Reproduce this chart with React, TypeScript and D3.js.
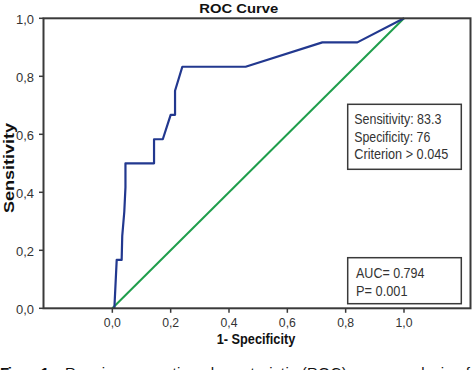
import React from 'react';
import * as d3 from 'd3';

// ROC curve points (1 - specificity, sensitivity)
const fpr = [0.007, 0.015, 0.032, 0.034, 0.041, 0.045, 0.045, 0.143, 0.143, 0.173, 0.2, 0.215, 0.215, 0.24, 0.457, 0.72, 0.84, 1];
const tpr = [0, 0.167, 0.167, 0.25, 0.333, 0.417, 0.5, 0.5, 0.583, 0.583, 0.667, 0.667, 0.75, 0.833, 0.833, 0.917, 0.917, 1];
const refLine = [0, 1];

const xTicks = [0, 0.2, 0.4, 0.6, 0.8, 1];
const yTicks = [0, 0.2, 0.4, 0.6, 0.8, 1];

const statsLines = ['Sensitivity: 83.3', 'Specificity: 76', 'Criterion > 0.045'];
const statsWidths = [87, 76, 94];
const aucLines = ['AUC= 0.794', 'P= 0.001'];
const aucWidths = [68.5, 51.5];

// condensed look: Liberation Sans squeezed with textLength
const FONT = '"Liberation Sans", Arial, Helvetica, sans-serif';

const App = () => {
  const width = 474;
  const height = 370;
  const left = 43.5, right = 470.5, top = 18.3, bottom = 308.3;

  // x axis runs past 0 and 1 on both sides, like the original
  const x = d3.scaleLinear().domain([-0.236, 1.228]).range([left, right]);
  const y = d3.scaleLinear().domain([0, 1]).range([bottom, top]);

  const line = d3.line<number>()
    .x((d, i) => x(fpr[i]))
    .y((d) => y(d));
  const diag = d3.line<number>().x((d) => x(d)).y((d) => y(d));

  const fmt = (v: number) => d3.format('.1f')(v).replace('.', ',');
  const axisColor = '#3a3a3a';
  const textColor = '#333';
  const sq = 'spacingAndGlyphs';

  return (
    <svg width={width} height={height} style={{ position: 'absolute', left: 0, top: 0, background: '#fff' }} fontFamily={FONT}>
      <text x={199.3} y={13.3} fontWeight="bold" fontSize={13} fill="#111" textLength={79} lengthAdjust={sq}>ROC Curve</text>

      <path d={diag(refLine) ?? ''} fill="none" stroke="#1f9e4c" strokeWidth={2} />
      <path d={line(tpr) ?? ''} fill="none" stroke="#22388f" strokeWidth={2.2} strokeLinejoin="round" />

      <rect x={left} y={top} width={right - left} height={bottom - top} fill="none" stroke={axisColor} strokeWidth={2} />

      {yTicks.map((t) => (
        <g key={'y' + t}>
          <line x1={left - 4.5} x2={left} y1={y(t)} y2={y(t)} stroke={axisColor} strokeWidth={1.5} />
          <text x={16} y={y(t) + 5.7} fontSize={13} fill={textColor} textLength={18} lengthAdjust={sq}>{fmt(t)}</text>
        </g>
      ))}
      {xTicks.map((t) => (
        <g key={'x' + t}>
          <line x1={x(t)} x2={x(t)} y1={bottom} y2={bottom + 4.5} stroke={axisColor} strokeWidth={1.5} />
          <text x={x(t) - 8.5} y={326.7} fontSize={13} fill={textColor} textLength={17} lengthAdjust={sq}>{fmt(t)}</text>
        </g>
      ))}

      <text x={216.7} y={344.3} fontWeight="bold" fontSize={14} fill="#111" textLength={78.6} lengthAdjust={sq}>1- Specificity</text>
      <text transform="translate(13.5,213) rotate(-90)" fontWeight="bold" fontSize={14} fill="#111" textLength={90} lengthAdjust={sq}>Sensitivity</text>

      <rect x={347.7} y={104.3} width={113.6} height={65} fill="#fff" stroke={axisColor} strokeWidth={1.5} />
      {statsLines.map((s, i) => (
        <text key={s} x={354.3} y={124 + i * 17.6} fontSize={15} fill={textColor} textLength={statsWidths[i]} lengthAdjust={sq}>{s}</text>
      ))}

      <rect x={347.7} y={257.7} width={113.6} height={46} fill="#fff" stroke={axisColor} strokeWidth={1.5} />
      {aucLines.map((s, i) => (
        <text key={s} x={356} y={277.7 + i * 18.3} fontSize={15} fill={textColor} textLength={aucWidths[i]} lengthAdjust={sq}>{s}</text>
      ))}

      {/* figure caption, cut off by the bottom edge as in the original */}
      <text y={378.3} fontSize={15} fill="#111">
        <tspan x={0} fontWeight="bold" textLength={52} lengthAdjust="spacing">Figure 1.</tspan>
        <tspan x={65} textLength={405} lengthAdjust="spacing">Receiver operating characteristic (ROC) curve analysis of</tspan>
      </text>
    </svg>
  );
};

export default App;
